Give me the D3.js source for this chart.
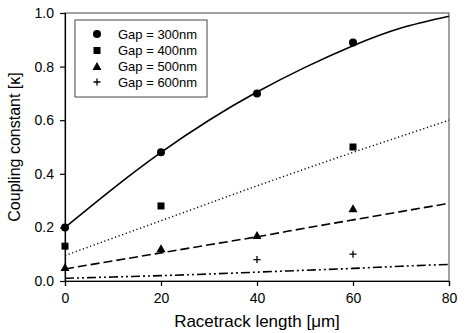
<!DOCTYPE html>
<html><head><meta charset="utf-8">
<script src="https://cdn.jsdelivr.net/npm/d3@7"></script>
<style>body{margin:0;background:#fff}svg{display:block}text{font-family:"Liberation Sans",Arial,sans-serif;fill:#000}</style>
</head><body>
<svg id="c" width="474" height="333"></svg>
<script>
const xTicks=[0,20,40,60,80];
const yTicks=[0,0.2,0.4,0.6,0.8,1.0];
const seriesNames=["Gap = 300nm","Gap = 400nm","Gap = 500nm","Gap = 600nm"];
const measX300=[0,20,40,60], measY300=[0.20,0.48,0.70,0.89];
const measX400=[0,20,60], measY400=[0.13,0.28,0.50];
const measX500=[0,20,40,60], measY500=[0.05,0.12,0.17,0.27];
const measX600=[40,60], measY600=[0.08,0.10];
const fitX=[0,10,20,30,40,50,60,70,80];
const fit300=[0.20,0.345,0.48,0.60,0.705,0.797,0.878,0.944,0.988];
const fit400=[0.095,0.16,0.225,0.29,0.355,0.418,0.48,0.54,0.60];
const fit500=[0.045,0.075,0.105,0.135,0.165,0.197,0.228,0.259,0.29];
const fit600=[0.01,0.015,0.02,0.026,0.033,0.04,0.047,0.055,0.062];

const svg=d3.select("#c");
const L=65,R=449,T=13,B=281;
const x=d3.scaleLinear().domain([0,80]).range([L,R]);
const y=d3.scaleLinear().domain([0,1]).range([B,T]);

svg.append("rect").attr("x",L).attr("y",T).attr("width",R-L).attr("height",B-T)
  .attr("fill","none").attr("stroke","#444").attr("stroke-width",1);

const xa=svg.append("g").attr("transform",`translate(0,${B})`)
  .call(d3.axisBottom(x).tickValues(xTicks).tickSize(5).tickPadding(7).tickFormat(d3.format("d")));
const ya=svg.append("g").attr("transform",`translate(${L},0)`)
  .call(d3.axisLeft(y).tickValues(yTicks).tickSize(5).tickPadding(6).tickFormat(d3.format(".1f")));
[xa,ya].forEach(a=>{a.selectAll("text").style("font-size","14px").style("font-family",'"Liberation Sans",Arial,sans-serif');
  a.selectAll("line,path").attr("stroke","#000").attr("stroke-width",1.2);});

svg.append("text").attr("x",(L+R)/2).attr("y",327).attr("text-anchor","middle").style("font-size","17px")
  .text("Racetrack length [μm]");
svg.append("text").attr("transform",`translate(20,${(T+B)/2}) rotate(-90)`).attr("text-anchor","middle").style("font-size","16px")
  .text("Coupling constant [κ]");

const line=d3.line().x((d,i)=>x(fitX[i])).y(d=>y(d)).curve(d3.curveNatural);
const styles=[
  {data:fit300,dash:null,w:1.6},
  {data:fit400,dash:"1.2,2.6",w:1.4},
  {data:fit500,dash:"9,4",w:1.6},
  {data:fit600,dash:"9,3,2,3,2,3",w:1.6}];
styles.forEach(s=>{
  svg.append("path").attr("d",line(s.data)).attr("fill","none").attr("stroke","#000")
    .attr("stroke-width",s.w).attr("stroke-dasharray",s.dash);
});

function marker(g,type,cx,cy){
  if(type===0) g.append("circle").attr("cx",cx).attr("cy",cy).attr("r",4).attr("fill","#000");
  else if(type===1) g.append("rect").attr("x",cx-3.5).attr("y",cy-3.5).attr("width",7).attr("height",7).attr("fill","#000");
  else if(type===2) g.append("path").attr("d",`M${cx},${cy-4.5}L${cx+4.5},${cy+3.5}L${cx-4.5},${cy+3.5}Z`).attr("fill","#000");
  else g.append("path").attr("d",`M${cx-3.5},${cy}H${cx+3.5}M${cx},${cy-3.5}V${cy+3.5}`).attr("stroke","#000").attr("stroke-width",1.3);
}
const meas=[[measX300,measY300],[measX400,measY400],[measX500,measY500],[measX600,measY600]];
const mg=svg.append("g");
meas.forEach((m,t)=>m[0].forEach((v,i)=>marker(mg,t,x(v),y(m[1][i]))));

const lg=svg.append("g");
lg.append("rect").attr("x",75).attr("y",20).attr("width",132).attr("height",77).attr("fill","#fff").attr("stroke","#444").attr("stroke-width",1);
const rows=[34,50.5,66.5,82];
seriesNames.forEach((n,i)=>{
  marker(lg,i,97,rows[i]);
  lg.append("text").attr("x",118).attr("y",rows[i]).attr("dy","0.35em").style("font-size","13px").text(n);
});
</script>
</body></html>
